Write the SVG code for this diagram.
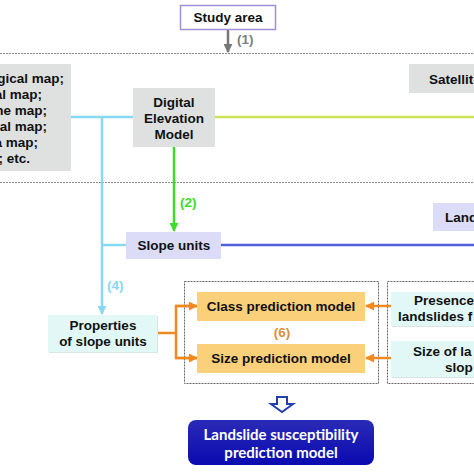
<svg xmlns="http://www.w3.org/2000/svg" width="474" height="474" viewBox="0 0 474 474">
<defs>
<style>
text{font-family:"Liberation Sans",Arial,sans-serif;font-weight:bold;font-size:13.5px;fill:#111}
.c{text-anchor:middle}
.sep{stroke:#8a8a8a;stroke-width:1;stroke-dasharray:2,1;fill:none}
.grp{stroke:#666;stroke-width:1;stroke-dasharray:2,1;fill:none}
.ln{fill:none;stroke-width:2.5}
</style>
<linearGradient id="bg" x1="0" y1="0" x2="0" y2="1">
<stop offset="0" stop-color="#2a2ab8"/>
<stop offset="1" stop-color="#0a0ab0"/>
</linearGradient>
<marker id="aGray" viewBox="0 0 10 10" refX="9" refY="5" markerWidth="9" markerHeight="9" markerUnits="userSpaceOnUse" orient="auto"><path d="M0,0L10,5L0,10z" fill="#777"/></marker>
<marker id="aGreen" viewBox="0 0 10 10" refX="9" refY="5" markerWidth="9" markerHeight="9" markerUnits="userSpaceOnUse" orient="auto"><path d="M0,0L10,5L0,10z" fill="#3ddc2a"/></marker>
<marker id="aCyan" viewBox="0 0 10 10" refX="9" refY="5" markerWidth="9" markerHeight="9" markerUnits="userSpaceOnUse" orient="auto"><path d="M0,0L10,5L0,10z" fill="#88d8f0"/></marker>
<marker id="aOrange" viewBox="0 0 10 10" refX="9" refY="5" markerWidth="9" markerHeight="9" markerUnits="userSpaceOnUse" orient="auto"><path d="M0,0L10,5L0,10z" fill="#f08a20"/></marker>
</defs>
<rect width="474" height="474" fill="#fff"/>

<g id="separators">
<line class="sep" x1="0" y1="53.5" x2="474" y2="53.5"/>
<line class="sep" x1="0" y1="182.5" x2="474" y2="182.5"/>
<rect class="grp" x="184.5" y="281.5" width="194" height="102"/>
<rect class="grp" x="387.5" y="281.5" width="90" height="102"/>
</g>

<g id="connectors">
<line x1="228" y1="29" x2="228" y2="52" stroke="#777" stroke-width="2.5" marker-end="url(#aGray)"/>
<line class="ln" x1="71" y1="117" x2="133" y2="117" stroke="#88d8f0"/>
<line class="ln" x1="102" y1="117" x2="102" y2="314" stroke="#88d8f0" marker-end="url(#aCyan)"/>
<line class="ln" x1="102" y1="245" x2="126" y2="245" stroke="#88d8f0"/>
<line class="ln" x1="215" y1="117" x2="474" y2="117" stroke="#cde354"/>
<line class="ln" x1="174" y1="147" x2="174" y2="231" stroke="#3ddc2a" marker-end="url(#aGreen)"/>
<line class="ln" x1="221" y1="245" x2="474" y2="245" stroke="#5060d8"/>
<polyline class="ln" points="157,333 176,333" stroke="#f08a20"/>
<polyline class="ln" points="197,306 176,306 176,358 197,358" stroke="#f08a20" stroke-linejoin="miter"/>
<line class="ln" x1="176" y1="306" x2="197" y2="306" stroke="#f08a20" marker-end="url(#aOrange)"/>
<line class="ln" x1="176" y1="358" x2="197" y2="358" stroke="#f08a20" marker-end="url(#aOrange)"/>
<line class="ln" x1="391" y1="306" x2="366" y2="306" stroke="#f08a20" marker-end="url(#aOrange)"/>
<line class="ln" x1="391" y1="358" x2="366" y2="358" stroke="#f08a20" marker-end="url(#aOrange)"/>
<polygon points="277,397 287,397 287,404 293,404 282,412 271,404 277,404" fill="#fff" stroke="#2040b0" stroke-width="2" stroke-linejoin="miter"/>
<text x="237" y="44" style="fill:#808080">(1)</text>
<text x="180" y="207" style="fill:#3ddc2a">(2)</text>
<text x="107" y="290" style="fill:#88d8f0">(4)</text>
<text x="282" y="337" class="c" style="fill:#d89040">(6)</text>
</g>

<g id="study-area">
<rect x="180.5" y="5.5" width="95" height="24" fill="#fff" stroke="#a090d8" stroke-width="1.5"/>
<text x="228" y="22" class="c">Study area</text>
</g>

<g id="thematic-maps">
<rect x="0" y="64" width="71" height="107" fill="#dfe1e1"/>
<text text-anchor="end"><tspan x="64" y="83">gical map;</tspan><tspan x="42" y="99">al map;</tspan><tspan x="47" y="115">ne map;</tspan><tspan x="47" y="131">al  map;</tspan><tspan x="38" y="147">a map;</tspan><tspan x="30" y="163">; etc.</tspan></text>
</g>

<g id="dem">
<rect x="133" y="88" width="82" height="59" fill="#dfe1e1"/>
<text class="c"><tspan x="174" y="107">Digital</tspan><tspan x="174" y="123">Elevation</tspan><tspan x="174" y="139">Model</tspan></text>
</g>

<g id="satellite">
<rect x="409" y="64" width="70" height="29" fill="#dfe1e1"/>
<text x="429" y="84">Satellit</text>
</g>

<g id="slope-units">
<rect x="126" y="232" width="95" height="27" fill="#dcdcf8"/>
<text x="174" y="250" class="c">Slope units</text>
</g>

<g id="landslide-inventory">
<rect x="433" y="203" width="45" height="28" fill="#dcdcf8"/>
<text x="445" y="222">Land</text>
</g>

<g id="properties">
<rect x="49" y="316" width="109" height="37" fill="#d9e6e4"/>
<rect x="48" y="315" width="109" height="37" fill="#e2f8f6"/>
<text class="c"><tspan x="103" y="330">Properties</tspan><tspan x="103" y="346">of slope units</tspan></text>
</g>

<g id="class-model">
<rect x="197" y="292" width="168" height="29" fill="#fbd07a"/>
<text x="281" y="311" class="c">Class prediction model</text>
</g>

<g id="size-model">
<rect x="197" y="344" width="168" height="29" fill="#fbd07a"/>
<text x="281" y="363" class="c">Size prediction model</text>
</g>

<g id="presence">
<rect x="392" y="293" width="90" height="34" fill="#d9e6e4"/>
<rect x="391" y="292" width="90" height="34" fill="#e2f8f6"/>
<text><tspan x="414" y="305">Presence</tspan><tspan x="398" y="321">landslides f</tspan></text>
</g>

<g id="size-of-landslides">
<rect x="392" y="342" width="90" height="36" fill="#d9e6e4"/>
<rect x="391" y="341" width="90" height="36" fill="#e2f8f6"/>
<text><tspan x="413" y="356">Size of la</tspan><tspan x="445" y="372">slop</tspan></text>
</g>

<g id="susceptibility-model">
<rect x="188" y="420" width="186" height="45" rx="8" fill="url(#bg)"/>
<text class="c" style="fill:#fff;font-family:Lato,'Open Sans',sans-serif;font-size:15px"><tspan x="281" y="440">Landslide susceptibility</tspan><tspan x="281" y="458">prediction model</tspan></text>
</g>
</svg>
